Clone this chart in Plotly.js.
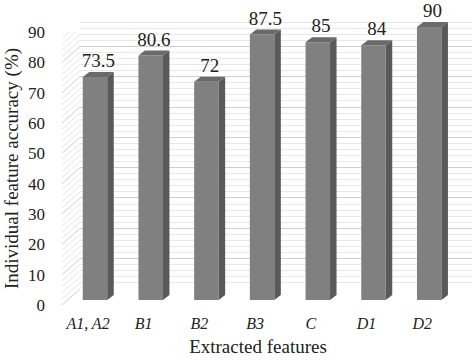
<!DOCTYPE html>
<html>
<head>
<meta charset="utf-8">
<script src="https://cdn.plot.ly/plotly-3.0.1.min.js"></script>
<style>html,body{margin:0;padding:0;background:#fff;}#chart{width:474px;height:362px;}</style>
</head>
<body>
<div id="chart"></div>
<script>
// ---- data ----
const categories = ['A1, A2', 'B1', 'B2', 'B3', 'C', 'D1', 'D2'];
const accuracy = [73.5, 80.6, 72, 87.5, 85, 84, 90];
const labels = ['73.5', '80.6', '72', '87.5', '85', '84', '90'];
const yTicks = [0, 10, 20, 30, 40, 50, 60, 70, 80, 90];

// ---- geometry (pixels -> paper fractions) ----
const W = 474, H = 362;
const px = v => v / W;
const py = v => (H - v) / H;
const FONT = '"Liberation Serif", "Times New Roman", serif';
const TXT = '#222222';
const PPU = 3.033;          // pixels per value unit

const xIdx = categories.map((c, i) => i);
const xRange = [(62 - 88) / 55.7, (454 - 88) / 55.7];
const barW = 0.44;          // front face width (category units)
const dx = 6.5 / 55.7;      // depth offset x
const dy = 5 / PPU;         // depth offset y (value units)

// top & side faces of the 3D bars, built from the data
const topX = [], topY = [], sideX = [], sideY = [];
accuracy.forEach((v, i) => {
  const x0 = i - barW / 2, x1 = i + barW / 2;
  topX.push(x0, x0 + dx, x1 + dx, x1, x0, null);
  topY.push(v, v + dy, v + dy, v, v, null);
  sideX.push(x1, x1 + dx, x1 + dx, x1, x1, null);
  sideY.push(0, dy, v + dy, v, 0, null);
});

const traces = [
  {type: 'scatter', x: xIdx, y: accuracy, mode: 'markers', marker: {opacity: 0},
   xaxis: 'x', yaxis: 'y', hoverinfo: 'skip', showlegend: false},
  {type: 'scatter', x: [0], y: [0], mode: 'markers', marker: {opacity: 0},
   xaxis: 'x2', yaxis: 'y2', hoverinfo: 'skip', showlegend: false},
  {type: 'bar', x: xIdx, y: accuracy, width: barW, xaxis: 'x3', yaxis: 'y3',
   marker: {color: '#808080', line: {width: 0}}, showlegend: false},
  {type: 'scatter', x: sideX, y: sideY, mode: 'lines', fill: 'toself',
   fillcolor: '#595959', line: {width: 0, color: '#595959'},
   xaxis: 'x3', yaxis: 'y3', hoverinfo: 'skip', showlegend: false},
  {type: 'scatter', x: topX, y: topY, mode: 'lines', fill: 'toself',
   fillcolor: '#6a6a6a', line: {width: 0, color: '#6a6a6a'},
   xaxis: 'x3', yaxis: 'y3', hoverinfo: 'skip', showlegend: false},
  {type: 'scatter', x: xIdx.map(i => i + dx / 2), y: accuracy.map(v => v + dy),
   mode: 'text', text: labels, textposition: 'top center', cliponaxis: false,
   textfont: {family: FONT, size: 19, color: TXT},
   xaxis: 'x3', yaxis: 'y3', hoverinfo: 'skip', showlegend: false}
];

const shapes = [];
const backShift = 16 / PPU;
for (let v = 0; v <= 90; v += 2) {
  const major = v % 10 === 0;
  shapes.push({type: 'line', xref: 'paper', yref: 'y', layer: 'below',
    x0: px(62), y0: v, x1: px(80), y1: v + backShift,
    line: {color: major ? '#cfcfcf' : '#e6e6e6', width: 1}});
}

const barTop = 95;
const layout = {
  width: W, height: H,
  margin: {l: 0, r: 0, t: 0, b: 0},
  paper_bgcolor: '#ffffff', plot_bgcolor: 'rgba(0,0,0,0)',
  showlegend: false,
  font: {family: FONT, color: TXT},
  xaxis: {domain: [px(62), px(454)], range: xRange, tickmode: 'array',
    tickvals: xIdx, ticktext: categories, showgrid: false, zeroline: false,
    showline: false, ticks: '', ticklabelstandoff: 7,
    tickfont: {family: FONT, size: 16, color: TXT, style: 'italic'},
    title: {text: 'Extracted features', font: {family: FONT, size: 19, color: TXT}, standoff: 8},
    automargin: false, fixedrange: true},
  yaxis: {domain: [py(305), py(32)], range: [0, 90], tickvals: yTicks,
    showgrid: false, zeroline: false, showline: false, ticks: '',
    ticklabelstandoff: 16,
    tickfont: {family: FONT, size: 17, color: TXT},
    title: {text: 'Individual feature accuracy (%)', font: {family: FONT, size: 19, color: TXT}, standoff: 4},
    automargin: false, fixedrange: true},
  xaxis2: {domain: [px(80), px(472)], range: [0, 1], anchor: 'y2',
    showgrid: false, zeroline: false, showline: false, showticklabels: false, ticks: ''},
  yaxis2: {domain: [py(289), py(16)], range: [-0.05, 90.05], anchor: 'x2',
    dtick: 10, tick0: 0, showgrid: true, gridcolor: '#cfcfcf', gridwidth: 1,
    minor: {dtick: 2, tick0: 0, showgrid: true, gridcolor: '#e8e8e8', gridwidth: 1},
    zeroline: false, showline: false, showticklabels: false, ticks: ''},
  xaxis3: {domain: [px(69), px(461)], range: xRange, anchor: 'y3',
    showgrid: false, zeroline: false, showline: false, showticklabels: false, ticks: ''},
  yaxis3: {domain: [py(300), py(300 - PPU * barTop)], range: [0, barTop], anchor: 'x3',
    showgrid: false, zeroline: false, showline: false, showticklabels: false, ticks: ''},
  shapes: shapes
};

Plotly.newPlot('chart', traces, layout, {displayModeBar: false, staticPlot: true});
</script>
</body>
</html>
